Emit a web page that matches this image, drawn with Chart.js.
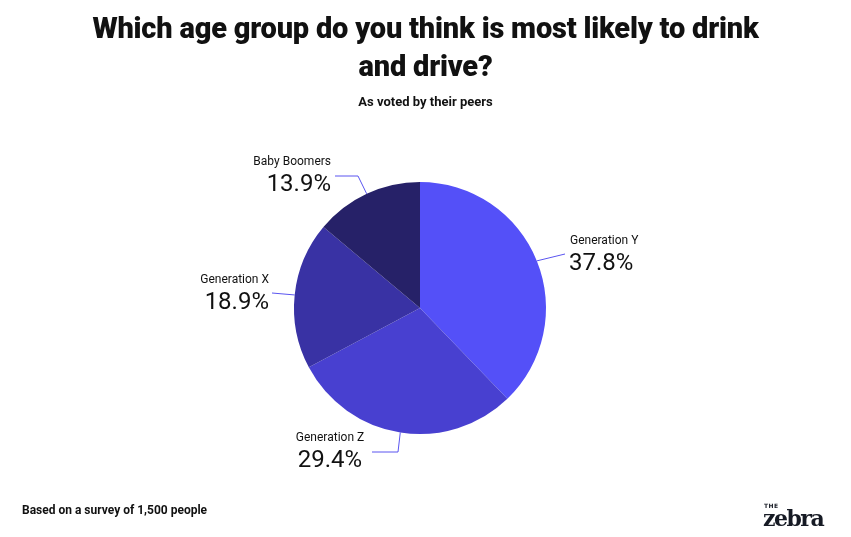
<!DOCTYPE html>
<html><head><meta charset="utf-8">
<script src="https://cdn.jsdelivr.net/npm/chart.js@4"></script>
<style>
  html,body{margin:0;padding:0;background:#fff;font-family:Roboto,"Noto Sans",sans-serif;}
  #wrap{position:relative;width:851px;height:537px;overflow:hidden;}
  canvas{position:absolute;left:0;top:0;}
  .title{position:absolute;left:0;width:851px;text-align:center;font-weight:900;font-size:29px;color:#111;line-height:38px;top:9px;letter-spacing:-0.2px;}
  .sub{position:absolute;left:0;width:851px;text-align:center;font-weight:700;font-size:13px;color:#111;top:94px;}
  .foot{position:absolute;left:22px;top:503px;font-weight:700;font-size:12px;color:#111;}
  .logo{position:absolute;left:763px;top:503px;color:#161a24;}
  .logo .the{font-family:"DejaVu Sans";font-weight:900;font-size:6px;letter-spacing:0.5px;position:absolute;left:1px;top:-1px;}
  .logo .z{font-family:"DejaVu Serif";font-weight:900;font-size:22px;position:absolute;top:2px;left:0;letter-spacing:-1.5px;}
</style></head>
<body>
<div id="wrap">
  <canvas id="c" width="851" height="537"></canvas>
  <div class="title">Which age group do you think is most likely to drink<br>and drive?</div>
  <div class="sub">As voted by their peers</div>
  <div class="foot">Based on a survey of 1,500 people</div>
  <div class="logo"><span class="the">THE</span><span class="z">zebra</span></div>
</div>
<script>
const labels = ["Generation Y", "Generation Z", "Generation X", "Baby Boomers"];
const values = [37.8, 29.4, 18.9, 13.9];
const colors = ["#5450f8", "#4840d0", "#3932a4", "#262168"];

// label anchors: [x, y of name, align, leader path elbow points]
const labelPos = [
  { x: 570, y: 241, align: "left",  path: [[565, 254]] },
  { x: 330, y: 438, align: "center", path: [[398, 452], [372, 452]] },
  { x: 269, y: 280, align: "right", path: [[272, 293]] },
  { x: 331, y: 162, align: "right", path: [[358, 176], [335, 176]] }
];

const calloutPlugin = {
  id: "callouts",
  afterDraw(chart) {
    const ctx = chart.ctx;
    chart.getDatasetMeta(0).data.forEach((arc, i) => {
      const p = arc.getProps(["x", "y", "startAngle", "endAngle", "outerRadius"], true);
      const mid = (p.startAngle + p.endAngle) / 2;
      const lp = labelPos[i];
      ctx.save();
      ctx.strokeStyle = "#5a55f0";
      ctx.lineWidth = 1;
      ctx.beginPath();
      ctx.moveTo(p.x + Math.cos(mid) * p.outerRadius, p.y + Math.sin(mid) * p.outerRadius);
      lp.path.forEach(([x, y]) => ctx.lineTo(x, y));
      ctx.stroke();
      ctx.fillStyle = "#111";
      ctx.textAlign = lp.align;
      ctx.textBaseline = "middle";
      ctx.font = "12px Roboto";
      ctx.fillText(labels[i], lp.x, lp.y);
      ctx.font = "24px Roboto";
      ctx.fillText(values[i].toFixed(1) + "%", lp.x - (lp.align === "left" ? 1 : 0), lp.y + 23);
      ctx.restore();
    });
  }
};

new Chart(document.getElementById("c"), {
  type: "pie",
  data: { labels, datasets: [{ data: values, backgroundColor: colors, borderWidth: 0 }] },
  options: {
    responsive: false, animation: false,
    layout: { padding: { left: 294, right: 305, top: 182, bottom: 103 } },
    plugins: { legend: { display: false }, tooltip: { enabled: false } }
  },
  plugins: [calloutPlugin]
});
</script>
</body></html>
